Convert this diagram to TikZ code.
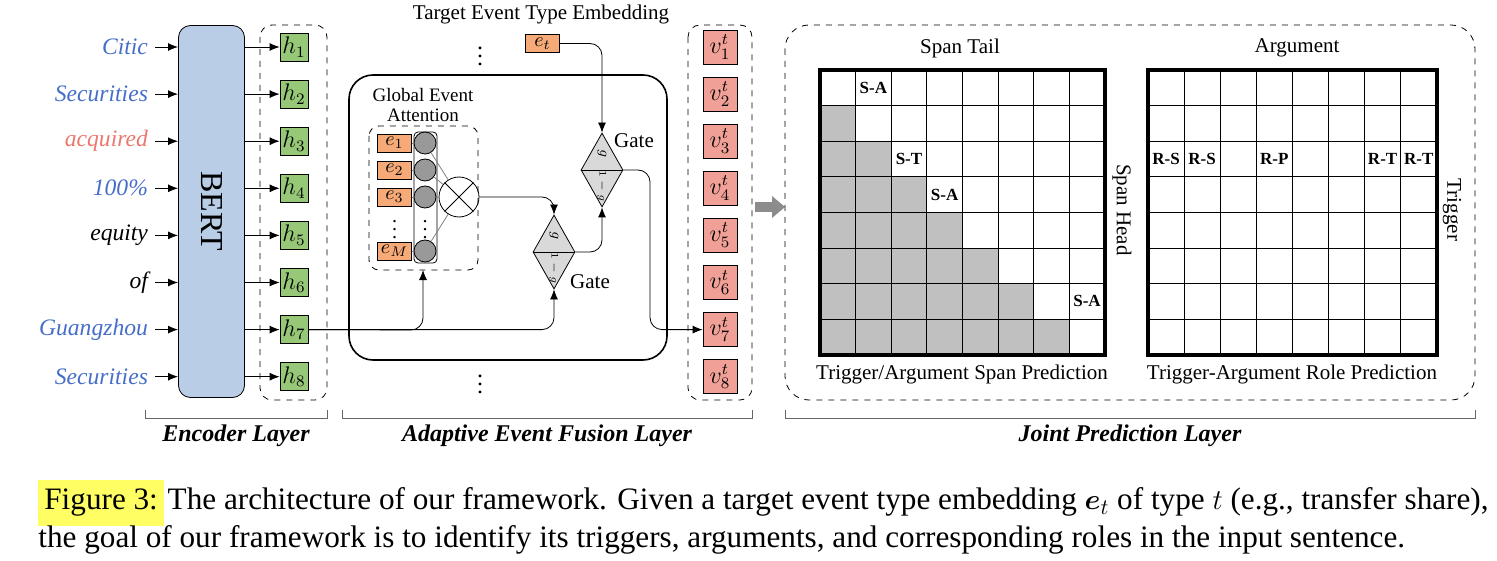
\documentclass[tikz,border=0pt]{standalone}
\usepackage{fontspec}
\setmainfont{Liberation Serif}
\usepackage{amsmath}
\usetikzlibrary{shapes.geometric,arrows.meta,decorations.pathreplacing}
\definecolor{wordblue}{RGB}{70,110,200}
\definecolor{wordred}{RGB}{235,120,110}
\definecolor{bertblue}{RGB}{185,205,230}
\definecolor{hgreen}{RGB}{150,200,120}
\definecolor{vred}{RGB}{240,160,150}
\definecolor{eorange}{RGB}{245,170,120}
\definecolor{cellgray}{RGB}{192,192,192}
\definecolor{hlyellow}{RGB}{255,255,100}
\begin{document}
\begin{tikzpicture}[x=0.5pt,y=-0.5pt,
    word/.style={anchor=east,font=\itshape\fontsize{11.8}{13}\selectfont},
    hbox/.style={draw,fill=hgreen,minimum width=14pt,minimum height=14pt,inner sep=0pt,font=\large},
    vbox/.style={draw,fill=vred,minimum width=17pt,minimum height=17pt,inner sep=0pt,font=\large},
    ebox/.style={draw,fill=eorange,minimum width=17pt,minimum height=9pt,inner sep=0pt},
    gate/.style={diamond,draw,fill=black!15,minimum width=21pt,minimum height=37pt,inner sep=0pt},
    cell/.style={font=\bfseries\fontsize{8.5}{9}\selectfont},
    arr/.style={-{Latex[length=5pt,width=4pt]}},
    small/.style={font=\fontsize{10.5}{12}\selectfont}
]
\useasboundingbox (0,0) rectangle (1497,561);

% encoder
\node[draw,rounded corners=6pt,fill=bertblue,minimum width=33pt,minimum height=186pt] (bert) at (211.5,211.5) {};
\node[rotate=-90,font=\fontsize{16}{18}\selectfont] at (bert) {BERT};
\draw[dashed,rounded corners=6pt] (260,25) rectangle (327,400);
\foreach \w/\c [count=\i] in {Citic/wordblue,Securities/wordblue,acquired/wordred,100\%/wordblue,equity/black,of/black,Guangzhou/wordblue,Securities/wordblue}{
  \pgfmathsetmacro{\yy}{47+(\i-1)*47.1}
  \node[word,text=\c] (w\i) at (155,\yy) {\w};
  \coordinate (bl\i) at (178,\yy);
  \coordinate (br\i) at (245,\yy);
  \node[hbox] (h\i) at (294,\yy) {$h_{\i}$};
  \node[vbox] (v\i) at (720,\yy) {$v^t_{\i}$};
  \draw[arr] (w\i.east) -- (bl\i);
  \draw[arr] (br\i) -- (h\i);
}
\draw[dashed,rounded corners=6pt] (688,25) rectangle (752,400);

% fusion layer
\draw[thick,rounded corners=12pt] (349,75) rectangle (667,360);
\node[font=\large,inner sep=0pt] (dtop) at (480,50) {$\vdots$};
\node[font=\large,inner sep=0pt] (dbot) at (480,378) {$\vdots$};
\node[small] (title) at (541,14) {Target Event Type Embedding};
\node[ebox] (et) at (542.5,43.5) {$e_t$};
\node[small,align=center,inner sep=0pt,font=\fontsize{9.5}{10}\selectfont] (gtitle) at (423,105) {Global Event\\Attention};
\draw[dashed,rounded corners=5pt] (369,126) rectangle (478,270);
\coordinate (att) at (423,270);
\draw[rounded corners=2pt] (414,132) rectangle (437,263);
\node[circle,draw,minimum size=20pt,inner sep=0pt] (ot) at (459,197) {};
\draw (ot.north west) -- (ot.south east) (ot.north east) -- (ot.south west);
\foreach \n/\y in {1/143,2/170,3/197,M/251}{
  \node[ebox] (e\n) at (394.5,\y) {$e_{\n}$};
  \node[circle,draw,fill=black!40,minimum size=11pt,inner sep=0pt] (c\n) at (425,\y) {};
  \draw[black!50] (e\n) -- (c\n);
  \draw[black!50] (c\n) -- (ot);
}
\node at (394.5,224) {$\vdots$};
\node at (425,224) {$\vdots$};

\node[gate] (g1) at (554,252) {};
\node[gate] (g2) at (602,170) {};
\foreach \g in {g1,g2}{
  \draw (\g.west) -- (\g.east);
  \node[rotate=-90,font=\scriptsize,inner sep=0pt] at ([yshift=8pt]\g.center) {$g$};
  \node[rotate=-90,font=\tiny,inner sep=0pt] at ([yshift=-8pt]\g.center) {$1-g$};
}
\node[small] (gl2) at (634,141) {Gate};
\node[small] (gl1) at (590,282) {Gate};

\draw[arr,rounded corners=6pt] (et.east) -| (g2.north);
\draw[arr,rounded corners=6pt] (ot.east) -| (g1.north);
\draw[arr,rounded corners=6pt] (g1.east) -| (g2.south);
\draw[arr,rounded corners=6pt] (g2.east) -- (650,170) |- (v7.west);
\draw[arr,rounded corners=6pt] (h7.east) -- (423,330) -- (att);
\draw[arr,rounded corners=6pt] (h7.east) -| (g1.south);

% joint prediction
\draw[line width=5pt,black!45] (755,207) -- (772,207);
\fill[black!45] (772,196) -- (785,207) -- (772,218) -- cycle;
\draw[dashed,rounded corners=12pt] (785,25) rectangle (1475,400);
\foreach \i in {0,...,7}{
  \foreach \j in {0,...,7}{
    \ifnum\j<\i
      \fill[cellgray] (820+\j*35.6,70+\i*35.6) rectangle ++(35.6,35.6);
    \fi
  }
}
\foreach \k in {1,...,7}{
  \draw (820+\k*35.6,70) -- (820+\k*35.6,355);
  \draw (820,70+\k*35.6) -- (1105,70+\k*35.6);
  \draw (1148+\k*36.1,70) -- (1148+\k*36.1,355);
  \draw (1148,70+\k*35.6) -- (1437,70+\k*35.6);
}
\draw[line width=1.6pt] (820,70) rectangle (1105,355);
\draw[line width=1.6pt] (1148,70) rectangle (1437,355);
\foreach \r/\c/\t in {0/1/S-A,2/2/S-T,3/3/S-A,6/7/S-A}{
  \node[cell] at (820+\c*35.6+17.8,70+\r*35.6+17.8) {\t};
}
\foreach \c/\t in {0/R-S,1/R-S,3/R-P,6/R-T,7/R-T}{
  \node[cell] at (1148+\c*36.1+18,70+2*35.6+17.8) {\t};
}
\node[small] (stail) at (960,48) {Span Tail};
\node[small] (argt) at (1297,48) {Argument};
\node[small,rotate=-90] (shead) at (1122,210) {Span Head};
\node[small,rotate=-90] (trig) at (1452,210) {Trigger};
\node[small] (cap1) at (962,374) {Trigger/Argument Span Prediction};
\node[small] (cap2) at (1292,374) {Trigger-Argument Role Prediction};

% layer braces
\foreach \a/\b/\t in {145/327/Encoder Layer,342/752/Adaptive Event Fusion Layer,785/1475/Joint Prediction Layer}{
  \draw[black!60] (\a,410) -- (\a,418) -- (\b,418) -- (\b,410);
  \node[font=\bfseries\itshape\fontsize{12}{13}\selectfont] at ({(\a+\b)/2},436) {\t};
}

% caption
\node[anchor=west,inner sep=0pt,font=\fontsize{15.6}{17}\selectfont] (fig1) at (38,503)
  {\colorbox{hlyellow}{\strut Figure 3:}\hspace{-2pt} The architecture of our framework. Given a target event type embedding $\boldsymbol{e}_t$ of type $t$ (e.g., transfer share),};
\node[anchor=west,inner sep=0pt,font=\fontsize{15.6}{17}\selectfont] (fig2) at (38,540)
  {the goal of our framework is to identify its triggers, arguments, and corresponding roles in the input sentence.};
\end{tikzpicture}
\end{document}
